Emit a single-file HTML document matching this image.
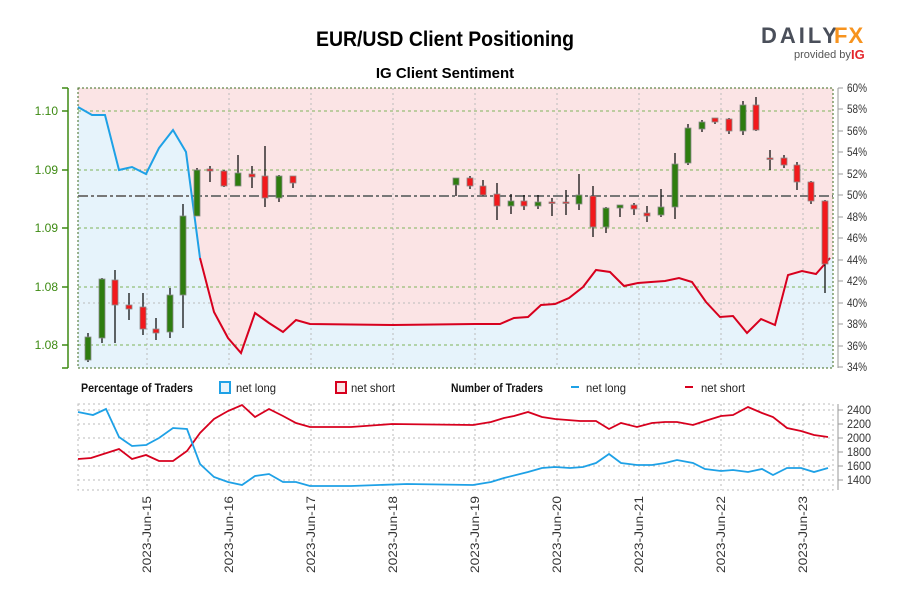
<!DOCTYPE html>
<html><head><meta charset="utf-8"><style>
html,body{margin:0;padding:0;background:#fff;}
svg{display:block;font-family:"Liberation Sans",sans-serif;}
</style></head><body>
<svg width="900" height="600" viewBox="0 0 900 600" xmlns="http://www.w3.org/2000/svg">
<text x="445" y="46" font-size="21" font-weight="bold" text-anchor="middle" fill="#000" textLength="258" lengthAdjust="spacingAndGlyphs">EUR/USD Client Positioning</text>
<text x="445" y="78" font-size="15" font-weight="bold" text-anchor="middle" fill="#000">IG Client Sentiment</text>
<text x="761" y="43" font-size="22" font-weight="bold" fill="#4a4f5a" letter-spacing="3">DAILY</text>
<text x="834" y="43" font-size="22" font-weight="bold" fill="#f7931e" letter-spacing="1">FX</text>
<text x="794" y="58" font-size="11" fill="#555">provided by</text>
<text x="851" y="59" font-size="13" font-weight="bold" fill="#e4262c">IG</text>

<rect x="78" y="88" width="755" height="280" fill="#fbe4e5"/>
<polygon fill="#e6f3fb" points="78,107 92,115 105,115 119,170 132,167 146,174 159,148 173,130 186,152 200,258 214,312 228,338 241,353 255,313 269,323 283,332 296,320 310,324 393,325 475,324 500,324 514,318 528,317 541,305 555,304 569,298 583,287 596,270 610,272 624,286 638,283 651,282 665,281 679,278 692,282 706,302 720,317 733,316 747,333 761,319 775,325 788,275 802,271 816,274 830,258 833,258 833,368 78,368"/>
<g stroke="#bbb" stroke-dasharray="2,3" stroke-width="1">
<line x1="147" y1="88" x2="147" y2="368"/><line x1="229" y1="88" x2="229" y2="368"/><line x1="311" y1="88" x2="311" y2="368"/><line x1="393" y1="88" x2="393" y2="368"/><line x1="475" y1="88" x2="475" y2="368"/><line x1="557" y1="88" x2="557" y2="368"/><line x1="639" y1="88" x2="639" y2="368"/><line x1="721" y1="88" x2="721" y2="368"/><line x1="803" y1="88" x2="803" y2="368"/>
<line x1="78" y1="303" x2="833" y2="303"/>
</g>
<g stroke="#7fb35a" stroke-dasharray="3,3" stroke-width="1">
<line x1="78" y1="111" x2="833" y2="111"/><line x1="78" y1="170" x2="833" y2="170"/><line x1="78" y1="228" x2="833" y2="228"/><line x1="78" y1="287" x2="833" y2="287"/><line x1="78" y1="345" x2="833" y2="345"/>
</g>
<rect x="78" y="88" width="755" height="280" fill="none" stroke="#3d6b1f" stroke-dasharray="2,2" stroke-width="1"/>
<line x1="78" y1="196" x2="833" y2="196" stroke="#777" stroke-width="2" stroke-dasharray="10,3,3,3"/>

<polyline fill="none" stroke="#1ea1e6" stroke-width="2" points="78,107 92,115 105,115 119,170 132,167 146,174 159,148 173,130 186,152 200,258"/>
<polyline fill="none" stroke="#d7001e" stroke-width="2" points="200,258 214,312 228,338 241,353 255,313 269,323 283,332 296,320 310,324 393,325 475,324 500,324 514,318 528,317 541,305 555,304 569,298 583,287 596,270 610,272 624,286 638,283 651,282 665,281 679,278 692,282 706,302 720,317 733,316 747,333 761,319 775,325 788,275 802,271 816,274 830,258"/>

<g stroke-width="1.2">
<g stroke="#000">
<line x1="88" y1="333" x2="88" y2="362"/><line x1="102" y1="278" x2="102" y2="343"/><line x1="115" y1="270" x2="115" y2="343"/><line x1="129" y1="293" x2="129" y2="320"/><line x1="143" y1="293" x2="143" y2="335"/><line x1="156" y1="318" x2="156" y2="340"/><line x1="170" y1="288" x2="170" y2="338"/><line x1="183" y1="204" x2="183" y2="328"/><line x1="197" y1="168" x2="197" y2="216"/><line x1="210" y1="166" x2="210" y2="182"/><line x1="224" y1="170" x2="224" y2="187"/><line x1="238" y1="155" x2="238" y2="186"/><line x1="252" y1="166" x2="252" y2="188"/><line x1="265" y1="146" x2="265" y2="207"/><line x1="279" y1="175" x2="279" y2="202"/><line x1="293" y1="176" x2="293" y2="188"/>
<line x1="456" y1="178" x2="456" y2="196"/><line x1="470" y1="176" x2="470" y2="189"/><line x1="483" y1="180" x2="483" y2="196"/><line x1="497" y1="183" x2="497" y2="220"/><line x1="511" y1="194" x2="511" y2="214"/><line x1="524" y1="195" x2="524" y2="210"/><line x1="538" y1="195" x2="538" y2="209"/><line x1="552" y1="198" x2="552" y2="216"/><line x1="566" y1="190" x2="566" y2="215"/><line x1="579" y1="174" x2="579" y2="210"/><line x1="593" y1="186" x2="593" y2="237"/><line x1="606" y1="207" x2="606" y2="233"/><line x1="620" y1="205" x2="620" y2="217"/><line x1="634" y1="203" x2="634" y2="215"/><line x1="647" y1="206" x2="647" y2="222"/><line x1="661" y1="189" x2="661" y2="217"/><line x1="675" y1="153" x2="675" y2="219"/><line x1="688" y1="124" x2="688" y2="165"/><line x1="702" y1="120" x2="702" y2="132"/><line x1="715" y1="118" x2="715" y2="124"/><line x1="729" y1="118" x2="729" y2="134"/><line x1="743" y1="101" x2="743" y2="135"/><line x1="756" y1="97" x2="756" y2="131"/><line x1="770" y1="150" x2="770" y2="170"/><line x1="784" y1="155" x2="784" y2="168"/><line x1="797" y1="162" x2="797" y2="190"/><line x1="811" y1="181" x2="811" y2="204"/><line x1="825" y1="200" x2="825" y2="293"/>
</g>
<g fill="#2e7d0f" stroke="#8a8a8a" stroke-width="0.8">
<rect x="85" y="337" width="6" height="23"/><rect x="99" y="279" width="6" height="59"/><rect x="167" y="295" width="6" height="37"/><rect x="180" y="216" width="6" height="79"/><rect x="194" y="170" width="6" height="46"/><rect x="235" y="173" width="6" height="13"/><rect x="276" y="176" width="6" height="22"/>
<rect x="453" y="178" width="6" height="7"/><rect x="508" y="201" width="6" height="5"/><rect x="535" y="202" width="6" height="4"/><rect x="576" y="195" width="6" height="9"/><rect x="603" y="208" width="6" height="19"/><rect x="617" y="205" width="6" height="3"/><rect x="658" y="207" width="6" height="8"/><rect x="672" y="164" width="6" height="43"/><rect x="685" y="128" width="6" height="35"/><rect x="699" y="122" width="6" height="7"/><rect x="740" y="105" width="6" height="26"/>
</g>
<g fill="#f2191c" stroke="#8a8a8a" stroke-width="0.8">
<rect x="112" y="280" width="6" height="25"/><rect x="126" y="305" width="6" height="4"/><rect x="140" y="307" width="6" height="22"/><rect x="153" y="329" width="6" height="4"/><rect x="207" y="169" width="6" height="2"/><rect x="221" y="171" width="6" height="15"/><rect x="249" y="174" width="6" height="3"/><rect x="262" y="176" width="6" height="22"/><rect x="290" y="176" width="6" height="7"/>
<rect x="467" y="178" width="6" height="8"/><rect x="480" y="186" width="6" height="9"/><rect x="494" y="194" width="6" height="12"/><rect x="521" y="201" width="6" height="5"/><rect x="549" y="202" width="6" height="1.5"/><rect x="563" y="202" width="6" height="1.5"/><rect x="590" y="196" width="6" height="31"/><rect x="631" y="205" width="6" height="4"/><rect x="644" y="213" width="6" height="3"/><rect x="712" y="118" width="6" height="4"/><rect x="726" y="119" width="6" height="12"/><rect x="753" y="105" width="6" height="25"/><rect x="767" y="158" width="6" height="1.5"/><rect x="781" y="158" width="6" height="7"/><rect x="794" y="165" width="6" height="17"/><rect x="808" y="182" width="6" height="19"/><rect x="822" y="201" width="6" height="63"/>
</g>
</g>

<g stroke="#3d8a12" stroke-width="1.5" fill="none">
<line x1="68" y1="88" x2="68" y2="368"/>
<line x1="62" y1="88" x2="68" y2="88"/><line x1="62" y1="111" x2="68" y2="111"/><line x1="62" y1="170" x2="68" y2="170"/><line x1="62" y1="228" x2="68" y2="228"/><line x1="62" y1="287" x2="68" y2="287"/><line x1="62" y1="345" x2="68" y2="345"/><line x1="62" y1="368" x2="68" y2="368"/>
</g>
<g font-size="12" fill="#3d8a12" text-anchor="end">
<text x="58" y="115">1.10</text><text x="58" y="174">1.09</text><text x="58" y="232">1.09</text><text x="58" y="291">1.08</text><text x="58" y="349">1.08</text>
</g>
<g stroke="#999" stroke-width="1">
<line x1="838" y1="88" x2="838" y2="368"/>
<line x1="838" y1="88" x2="843" y2="88"/><line x1="838" y1="109" x2="843" y2="109"/><line x1="838" y1="131" x2="843" y2="131"/><line x1="838" y1="152" x2="843" y2="152"/><line x1="838" y1="174" x2="843" y2="174"/><line x1="838" y1="195" x2="843" y2="195"/><line x1="838" y1="217" x2="843" y2="217"/><line x1="838" y1="238" x2="843" y2="238"/><line x1="838" y1="260" x2="843" y2="260"/><line x1="838" y1="281" x2="843" y2="281"/><line x1="838" y1="303" x2="843" y2="303"/><line x1="838" y1="324" x2="843" y2="324"/><line x1="838" y1="346" x2="843" y2="346"/><line x1="838" y1="367" x2="843" y2="367"/>
</g>
<g font-size="12" fill="#333">
<text x="847" y="92" textLength="20" lengthAdjust="spacingAndGlyphs">60%</text><text x="847" y="113" textLength="20" lengthAdjust="spacingAndGlyphs">58%</text><text x="847" y="135" textLength="20" lengthAdjust="spacingAndGlyphs">56%</text><text x="847" y="156" textLength="20" lengthAdjust="spacingAndGlyphs">54%</text><text x="847" y="178" textLength="20" lengthAdjust="spacingAndGlyphs">52%</text><text x="847" y="199" textLength="20" lengthAdjust="spacingAndGlyphs">50%</text><text x="847" y="221" textLength="20" lengthAdjust="spacingAndGlyphs">48%</text><text x="847" y="242" textLength="20" lengthAdjust="spacingAndGlyphs">46%</text><text x="847" y="264" textLength="20" lengthAdjust="spacingAndGlyphs">44%</text><text x="847" y="285" textLength="20" lengthAdjust="spacingAndGlyphs">42%</text><text x="847" y="307" textLength="20" lengthAdjust="spacingAndGlyphs">40%</text><text x="847" y="328" textLength="20" lengthAdjust="spacingAndGlyphs">38%</text><text x="847" y="350" textLength="20" lengthAdjust="spacingAndGlyphs">36%</text><text x="847" y="371" textLength="20" lengthAdjust="spacingAndGlyphs">34%</text>
</g>

<g font-size="12">
<text x="81" y="392" font-weight="bold" fill="#111" textLength="112" lengthAdjust="spacingAndGlyphs">Percentage of Traders</text>
<rect x="220" y="382" width="10" height="11" fill="#e6f3fb" stroke="#1ea1e6" stroke-width="2"/>
<text x="236" y="392" fill="#222" textLength="40" lengthAdjust="spacingAndGlyphs">net long</text>
<rect x="336" y="382" width="10" height="11" fill="#fbe4e5" stroke="#d7001e" stroke-width="2"/>
<text x="351" y="392" fill="#222" textLength="44" lengthAdjust="spacingAndGlyphs">net short</text>
<text x="451" y="392" font-weight="bold" fill="#111" textLength="92" lengthAdjust="spacingAndGlyphs">Number of Traders</text>
<line x1="571" y1="387" x2="579" y2="387" stroke="#1ea1e6" stroke-width="2"/>
<text x="586" y="392" fill="#222" textLength="40" lengthAdjust="spacingAndGlyphs">net long</text>
<line x1="685" y1="387" x2="693" y2="387" stroke="#d7001e" stroke-width="2"/>
<text x="701" y="392" fill="#222" textLength="44" lengthAdjust="spacingAndGlyphs">net short</text>
</g>

<g stroke="#bbb" stroke-dasharray="2,3" stroke-width="1" fill="none">
<rect x="78" y="404" width="755" height="86"/>
<line x1="78" y1="410" x2="833" y2="410"/><line x1="78" y1="424" x2="833" y2="424"/><line x1="78" y1="438" x2="833" y2="438"/><line x1="78" y1="452" x2="833" y2="452"/><line x1="78" y1="466" x2="833" y2="466"/><line x1="78" y1="480" x2="833" y2="480"/>
<line x1="147" y1="404" x2="147" y2="490"/><line x1="229" y1="404" x2="229" y2="490"/><line x1="311" y1="404" x2="311" y2="490"/><line x1="393" y1="404" x2="393" y2="490"/><line x1="475" y1="404" x2="475" y2="490"/><line x1="557" y1="404" x2="557" y2="490"/><line x1="639" y1="404" x2="639" y2="490"/><line x1="721" y1="404" x2="721" y2="490"/><line x1="803" y1="404" x2="803" y2="490"/>
</g>
<polyline fill="none" stroke="#d7001e" stroke-width="1.8" points="78,459 91,458 119,449 132,459 146,455 159,461 173,461 187,451 200,433 214,419 228,411 242,405 255,417 269,409 283,416 296,423 310,427 351,427 392,424 473,425 491,422 504,418 514,416 528,412 542,417 555,419 580,421 596,421 609,429 621,423 637,427 652,423 665,422 677,422 693,425 705,421 721,416 733,415 748,407 762,413 773,417 787,428 801,431 814,435 828,437"/>
<polyline fill="none" stroke="#1ea1e6" stroke-width="1.8" points="78,412 93,415 106,409 119,437 132,446 146,445 159,438 173,428 187,429 200,464 214,477 228,482 242,485 255,476 269,474 283,482 296,482 310,486 351,486 407,484 473,485 491,482 504,478 528,472 542,468 555,467 570,468 583,467 596,463 609,454 621,463 637,465 652,465 665,463 677,460 693,463 705,469 721,471 733,470 748,472 762,469 773,475 787,468 801,468 814,472 828,468"/>
<g stroke="#999" stroke-width="1">
<line x1="838" y1="404" x2="838" y2="490"/>
<line x1="838" y1="410" x2="843" y2="410"/><line x1="838" y1="424" x2="843" y2="424"/><line x1="838" y1="438" x2="843" y2="438"/><line x1="838" y1="452" x2="843" y2="452"/><line x1="838" y1="466" x2="843" y2="466"/><line x1="838" y1="480" x2="843" y2="480"/>
</g>
<g font-size="12" fill="#333">
<text x="847" y="414" textLength="24" lengthAdjust="spacingAndGlyphs">2400</text><text x="847" y="428" textLength="24" lengthAdjust="spacingAndGlyphs">2200</text><text x="847" y="442" textLength="24" lengthAdjust="spacingAndGlyphs">2000</text><text x="847" y="456" textLength="24" lengthAdjust="spacingAndGlyphs">1800</text><text x="847" y="470" textLength="24" lengthAdjust="spacingAndGlyphs">1600</text><text x="847" y="484" textLength="24" lengthAdjust="spacingAndGlyphs">1400</text>
</g>
<g font-size="12" fill="#333" text-anchor="end">
<text transform="translate(151,496) rotate(-90)" textLength="77" lengthAdjust="spacingAndGlyphs">2023-Jun-15</text>
<text transform="translate(233,496) rotate(-90)" textLength="77" lengthAdjust="spacingAndGlyphs">2023-Jun-16</text>
<text transform="translate(315,496) rotate(-90)" textLength="77" lengthAdjust="spacingAndGlyphs">2023-Jun-17</text>
<text transform="translate(397,496) rotate(-90)" textLength="77" lengthAdjust="spacingAndGlyphs">2023-Jun-18</text>
<text transform="translate(479,496) rotate(-90)" textLength="77" lengthAdjust="spacingAndGlyphs">2023-Jun-19</text>
<text transform="translate(561,496) rotate(-90)" textLength="77" lengthAdjust="spacingAndGlyphs">2023-Jun-20</text>
<text transform="translate(643,496) rotate(-90)" textLength="77" lengthAdjust="spacingAndGlyphs">2023-Jun-21</text>
<text transform="translate(725,496) rotate(-90)" textLength="77" lengthAdjust="spacingAndGlyphs">2023-Jun-22</text>
<text transform="translate(807,496) rotate(-90)" textLength="77" lengthAdjust="spacingAndGlyphs">2023-Jun-23</text>
</g>
</svg>
</body></html>
